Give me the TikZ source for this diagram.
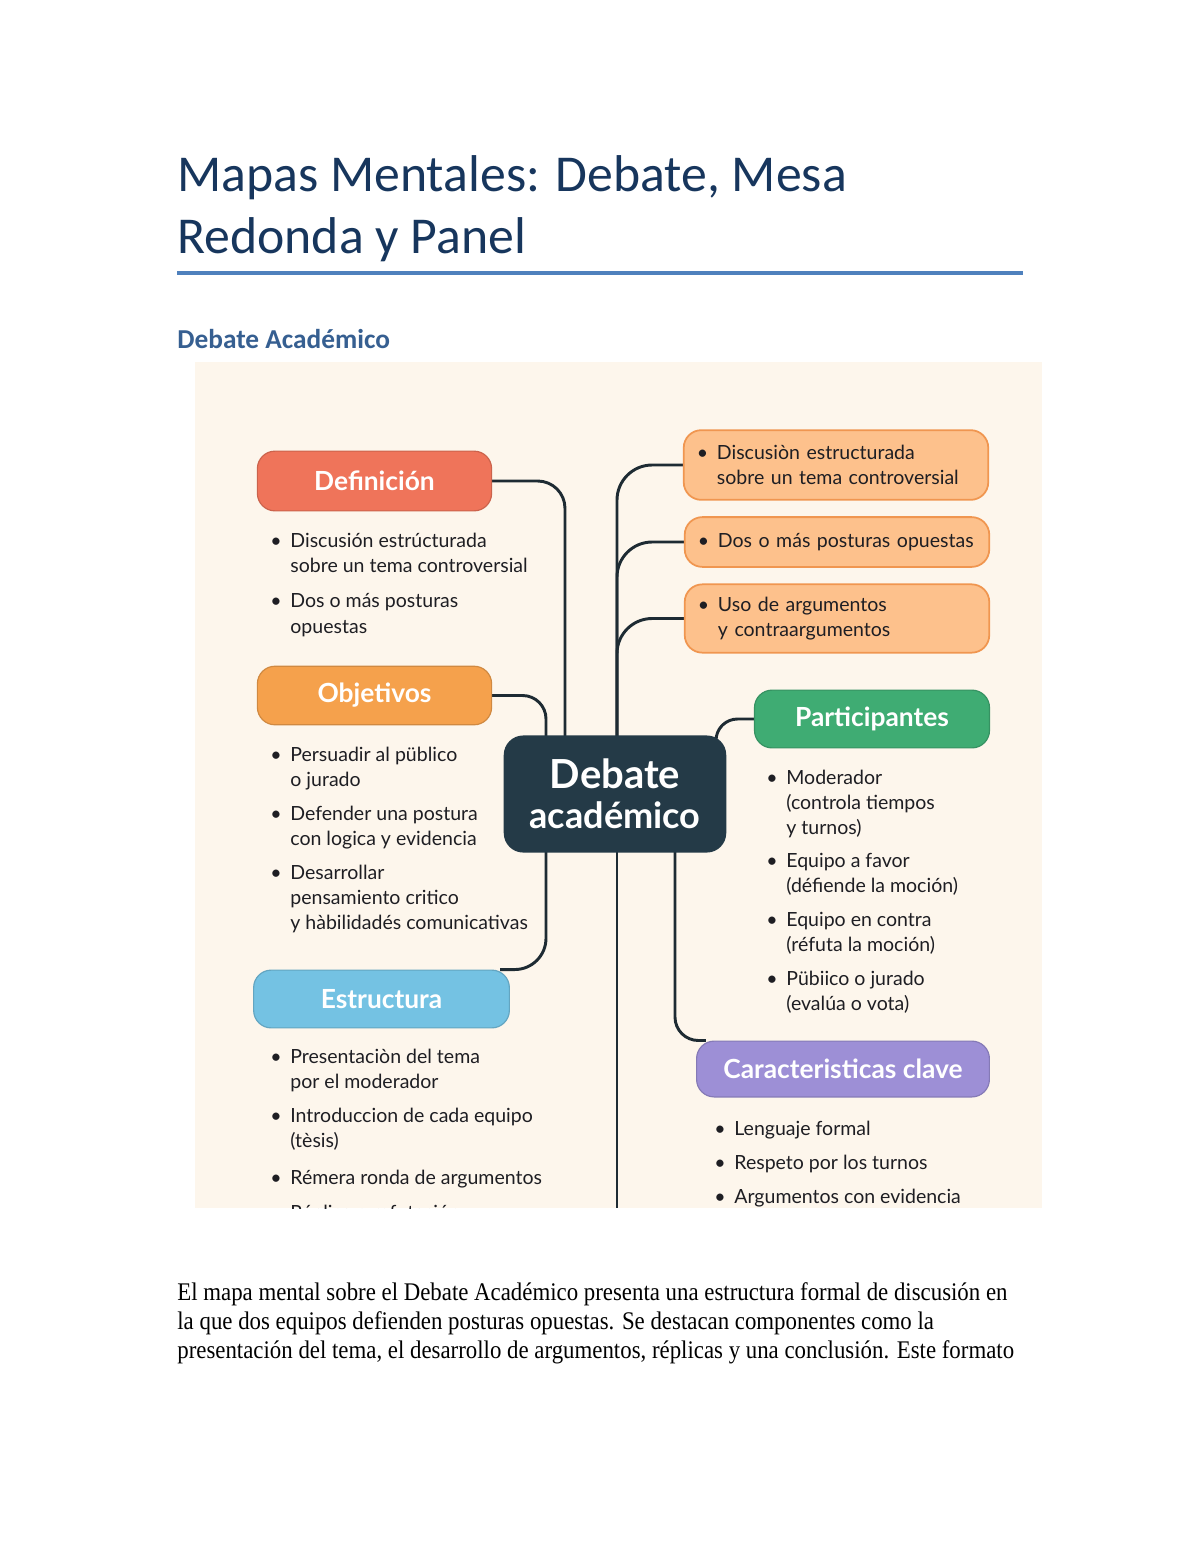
\documentclass[tikz,border=0pt]{standalone}
\usepackage{fontspec}
\setmainfont{Carlito}
\newfontfamily\mapfont{Lato}
\newfontfamily\bodyfont[FakeStretch=0.9]{Liberation Serif}
\usetikzlibrary{backgrounds}
\definecolor{titleblue}{RGB}{23,54,93}
\definecolor{ruleblue}{RGB}{79,129,189}
\definecolor{headblue}{RGB}{54,95,145}
\definecolor{paper}{RGB}{253,246,236}
\definecolor{hubdark}{RGB}{36,58,71}
\definecolor{wire}{RGB}{30,43,51}
\definecolor{coral}{RGB}{239,116,90}
\definecolor{tangerine}{RGB}{245,161,76}
\definecolor{sky}{RGB}{116,194,227}
\definecolor{mint}{RGB}{63,172,115}
\definecolor{lilac}{RGB}{157,143,214}
\definecolor{peach}{RGB}{253,193,140}
\definecolor{peachline}{RGB}{240,150,80}
\definecolor{ink}{RGB}{30,30,35}
\newcommand{\bl}{\llap{•\hspace{4.5pt}}}
\newcommand{\ind}{\hspace*{8.5pt}}
\tikzset{
  head/.style={fill=#1,draw=#1!85!black,line width=0.6pt,rounded corners=9pt,
    text=white,font=\mapfont\bfseries\fontsize{13.5}{15}\selectfont,inner sep=0pt},
  head/.default=coral,
  rbox/.style={fill=peach,draw=peachline,line width=0.9pt,rounded corners=9pt,
    text=ink,align=left,text width=139pt,inner xsep=8.5pt,inner ysep=0pt,
    font=\mapfont\fontsize{10}{12.9}\selectfont},
  hub/.style={fill=hubdark,rounded corners=10pt,text=white,align=center,
    minimum width=114pt,minimum height=60pt,inner sep=0pt,
    font=\mapfont\bfseries\fontsize{20.5}{20.4}\selectfont},
  item/.style={anchor=north west,yshift=7.5pt,align=left,inner sep=0pt,text=ink,
    font=\mapfont\fontsize{10}{12.9}\selectfont,execute at begin node=\strut},
  wire/.style={draw=wire,line width=1.5pt},
  doc/.style={anchor=base west,inner sep=0pt},
}
\begin{document}
\begin{tikzpicture}[x=0.018cm,y=-0.018cm]
  \useasboundingbox (0,0) rectangle (1200,1553);
  % page text
  \node[doc,font=\fontsize{26.5}{31}\selectfont,text=titleblue] (t1) at (177,191) {Mapas Mentales: Debate, Mesa};
  \node[doc,font=\fontsize{26.5}{31}\selectfont,text=titleblue] (t2) at (177,253) {Redonda y Panel};
  \draw[ruleblue,line width=1.6pt] (177,273) coordinate (ra) -- (1023,273) coordinate (rb);
  \node[doc,font=\bfseries\fontsize{14}{16}\selectfont,text=headblue] (h1) at (177,348) {Debate Académico};
  \node[doc,font=\bodyfont\fontsize{13}{15}\selectfont] (b1) at (177,1300) {El mapa mental sobre el Debate Académico presenta una estructura formal de discusión en};
  \node[doc,font=\bodyfont\fontsize{13}{15}\selectfont] (b2) at (177,1329) {la que dos equipos defienden posturas opuestas. Se destacan componentes como la};
  \node[doc,font=\bodyfont\fontsize{13}{15}\selectfont] (b3) at (177,1358) {presentación del tema, el desarrollo de argumentos, réplicas y una conclusión. Este formato};

  % mind map
  \node[hub] (hub) at (615,794) {\raisebox{-1.5pt}{Debate}\\{\fontsize{18.5}{20.4}\selectfont\raisebox{-1.5pt}{académico}}};

  \node[head=coral,minimum width=120pt,minimum height=30.6pt] (def) at (374.5,481) {Definición};
  \node[head=tangerine,minimum width=120pt,minimum height=30pt] (obj) at (374.5,695.5) {Objetivos};
  \node[head=sky,minimum width=131pt,minimum height=29.6pt] (est) at (381.5,999) {Estructura};
  \node[head=mint,minimum width=120.4pt,minimum height=29.6pt] (par) at (872,719) {Participantes};
  \node[head=lilac,minimum width=150pt,minimum height=28.6pt] (car) at (843,1069) {Caracteristicas clave};

  \node[rbox,minimum height=35.7pt] (r1) at (836,465) {\ind\bl Discusiòn estructurada\\\ind sobre un tema controversial};
  \node[rbox,minimum height=25.5pt] (r2) at (837,542) {\mbox{\ind\bl Dos o más posturas opuestas}};
  \node[rbox,minimum height=35pt] (r3) at (837,618.5) {\ind\bl Uso de argumentos\\\ind y contraargumentos};

  \node[item] (d1) at (290,547) {\bl Discusión estrúcturada\\sobre un tema controversial};
  \node[item] (d2) at (290,608) {\bl Dos o más posturas\\opuestas};

  \node[item] (o1) at (290,761) {\bl Persuadir al püblico\\o jurado};
  \node[item] (o2) at (290,820) {\bl Defender una postura\\con logica y evidencia};
  \node[item] (o3) at (290,879) {\bl Desarrollar\\pensamiento critico\\y hàbilidadés comunicativas};

  \node[item] (e1) at (290,1063) {\bl Presentaciòn del tema\\por el moderador};
  \node[item] (e2) at (290,1122) {\bl Introduccion de cada equipo\\(tèsis)};
  \node[item] (e3) at (290,1181) {\bl Rémera ronda de argumentos};
  \begin{scope}
    \clip (195,362) rectangle (1042,1208);
    \node[item] (e4) at (290,1216) {\bl Réplica o refutación};
  \end{scope}

  \node[item] (p1) at (786,784) {\bl Moderador\\(controla tiempos\\y turnos)};
  \node[item] (p2) at (786,867) {\bl Equipo a favor\\(défiende la moción)};
  \node[item] (p3) at (786,926) {\bl Equipo en contra\\(réfuta la moción)};
  \node[item] (p4) at (786,985) {\bl Pübiico o jurado\\(evalúa o vota)};

  \node[item] (c1) at (734,1132) {\bl Lenguaje formal};
  \node[item] (c2) at (734,1166) {\bl Respeto por los turnos};
  \node[item] (c3) at (734,1200) {\bl Argumentos con evidencia};

  % hub ends
  \coordinate (hA) at (565,736);
  \coordinate (hB) at (546,736);
  \coordinate (hC) at (546,852);
  \coordinate (hD) at (617,736);
  \coordinate (hE) at (716,748);
  \coordinate (hF) at (675,852);
  \coordinate (hG) at (617,852);
  \coordinate (hH) at (617,1208);

  \begin{scope}[on background layer]
    \fill[white] (0,0) rectangle (1200,1553);
    \fill[paper] (195,362) rectangle (1042,1208);
    \draw[wire,rounded corners=14pt] (def.east) -| (hA);
    \draw[wire,rounded corners=12pt] (obj.east) -| (hB);
    \draw[wire,rounded corners=16pt] (hC) |- ([xshift=-5pt]est.north east);
    \foreach \r in {r1,r2,r3}
      \draw[wire,rounded corners=18pt] (hD) |- (\r.west);
    \draw[wire,rounded corners=11pt] (hE) |- (par.west);
    \draw[wire,rounded corners=12pt] (hF) |- ([xshift=5pt]car.north west);
    \draw[wire] (hG) -- (hH);
  \end{scope}
\end{tikzpicture}
\end{document}
